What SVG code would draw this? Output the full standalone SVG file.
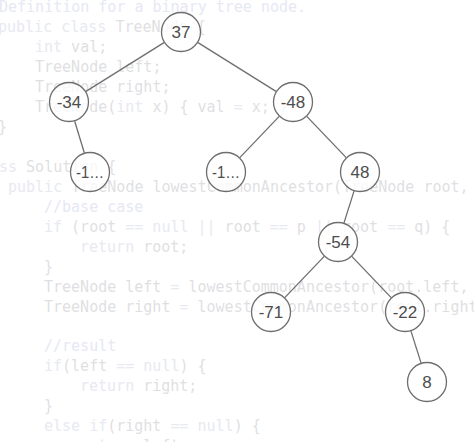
<svg xmlns="http://www.w3.org/2000/svg" width="474" height="442" viewBox="0 0 474 442">
<style>
.code{font-family:"DejaVu Sans Mono","Liberation Mono",monospace;font-size:15px;fill:#dfdfe3}
.k{fill:#e8e9f1}
.c{fill:#e6e8f4}
.edge{stroke:#6e6e6e;stroke-width:1.3;fill:none}
.node circle{fill:#ffffff;fill-opacity:0.75;stroke:#6e6e6e;stroke-width:1.3}
.node text{font-family:"Liberation Sans",Arial,sans-serif;font-size:17px;fill:#4d4d4d;text-anchor:middle}
</style>
<rect width="474" height="442" fill="#ffffff"/>
<g id="code" class="code">
<text x="-1" y="12" class="c">Definition for a binary tree node.</text>
<text x="-2" y="32"><tspan class="k">public class</tspan> TreeNode {</text>
<text x="35" y="52"><tspan class="k">int</tspan> val;</text>
<text x="35" y="72">TreeNode left;</text>
<text x="35" y="92">TreeNode right;</text>
<text x="35" y="112">TreeNode(<tspan class="k">int</tspan> x) { val <tspan class="k">=</tspan> x; }</text>
<text x="-2" y="132">}</text>
<text x="-1" y="172"><tspan class="k">ss</tspan> Solution {</text>
<text x="8" y="192"><tspan class="k">public</tspan> TreeNode lowestCommonAncestor(TreeNode root,</text>
<text x="44" y="212" class="c">//base case</text>
<text x="44" y="232"><tspan class="k">if</tspan> (root <tspan class="k">== null ||</tspan> root <tspan class="k">==</tspan> p <tspan class="k">||</tspan> root <tspan class="k">==</tspan> q) {</text>
<text x="80" y="252"><tspan class="k">return</tspan> root;</text>
<text x="44" y="272">}</text>
<text x="44" y="292">TreeNode left <tspan class="k">=</tspan> lowestCommonAncestor(root.left,</text>
<text x="44" y="312">TreeNode right <tspan class="k">=</tspan> lowestCommonAncestor(root.right,</text>
<text x="44" y="351" class="c">//result</text>
<text x="44" y="371"><tspan class="k">if</tspan>(left <tspan class="k">== null</tspan>) {</text>
<text x="80" y="391"><tspan class="k">return</tspan> right;</text>
<text x="44" y="411">}</text>
<text x="44" y="431"><tspan class="k">else if</tspan>(right <tspan class="k">== null</tspan>) {</text>
<text x="80" y="451"><tspan class="k">return</tspan> left;</text>
</g>
<g id="connectors">
<line class="edge" x1="164.0" y1="42.6" x2="86.0" y2="91.4"/>
<line class="edge" x1="198.0" y1="42.6" x2="276.0" y2="91.4"/>
<line class="edge" x1="74.7" y1="121.2" x2="84.3" y2="152.8"/>
<line class="edge" x1="279.2" y1="116.4" x2="239.8" y2="157.6"/>
<line class="edge" x1="306.8" y1="116.4" x2="346.2" y2="157.6"/>
<line class="edge" x1="354.0" y1="191.1" x2="344.0" y2="222.9"/>
<line class="edge" x1="324.2" y1="256.4" x2="284.8" y2="297.6"/>
<line class="edge" x1="351.8" y1="256.4" x2="391.2" y2="297.6"/>
<line class="edge" x1="411.0" y1="331.1" x2="421.0" y2="362.9"/>
</g>
<g id="n37" class="node"><circle cx="181" cy="32" r="19.5"/><text x="181" y="38">37</text></g>
<g id="n-34" class="node"><circle cx="69" cy="102" r="19.5"/><text x="69" y="108">-34</text></g>
<g id="n-48" class="node"><circle cx="293" cy="102" r="19.5"/><text x="293" y="108">-48</text></g>
<g id="n-1a" class="node"><circle cx="90" cy="172" r="19.5"/><text x="90" y="178" textLength="28" lengthAdjust="spacingAndGlyphs">-1…</text></g>
<g id="n-1b" class="node"><circle cx="226" cy="172" r="19.5"/><text x="226" y="178" textLength="28" lengthAdjust="spacingAndGlyphs">-1…</text></g>
<g id="n48" class="node"><circle cx="360" cy="172" r="19.5"/><text x="360" y="178">48</text></g>
<g id="n-54" class="node"><circle cx="338" cy="242" r="19.5"/><text x="338" y="248">-54</text></g>
<g id="n-71" class="node"><circle cx="271" cy="312" r="19.5"/><text x="271" y="318">-71</text></g>
<g id="n-22" class="node"><circle cx="405" cy="312" r="19.5"/><text x="405" y="318">-22</text></g>
<g id="n8" class="node"><circle cx="427" cy="382" r="19.5"/><text x="427" y="388">8</text></g>
</svg>
